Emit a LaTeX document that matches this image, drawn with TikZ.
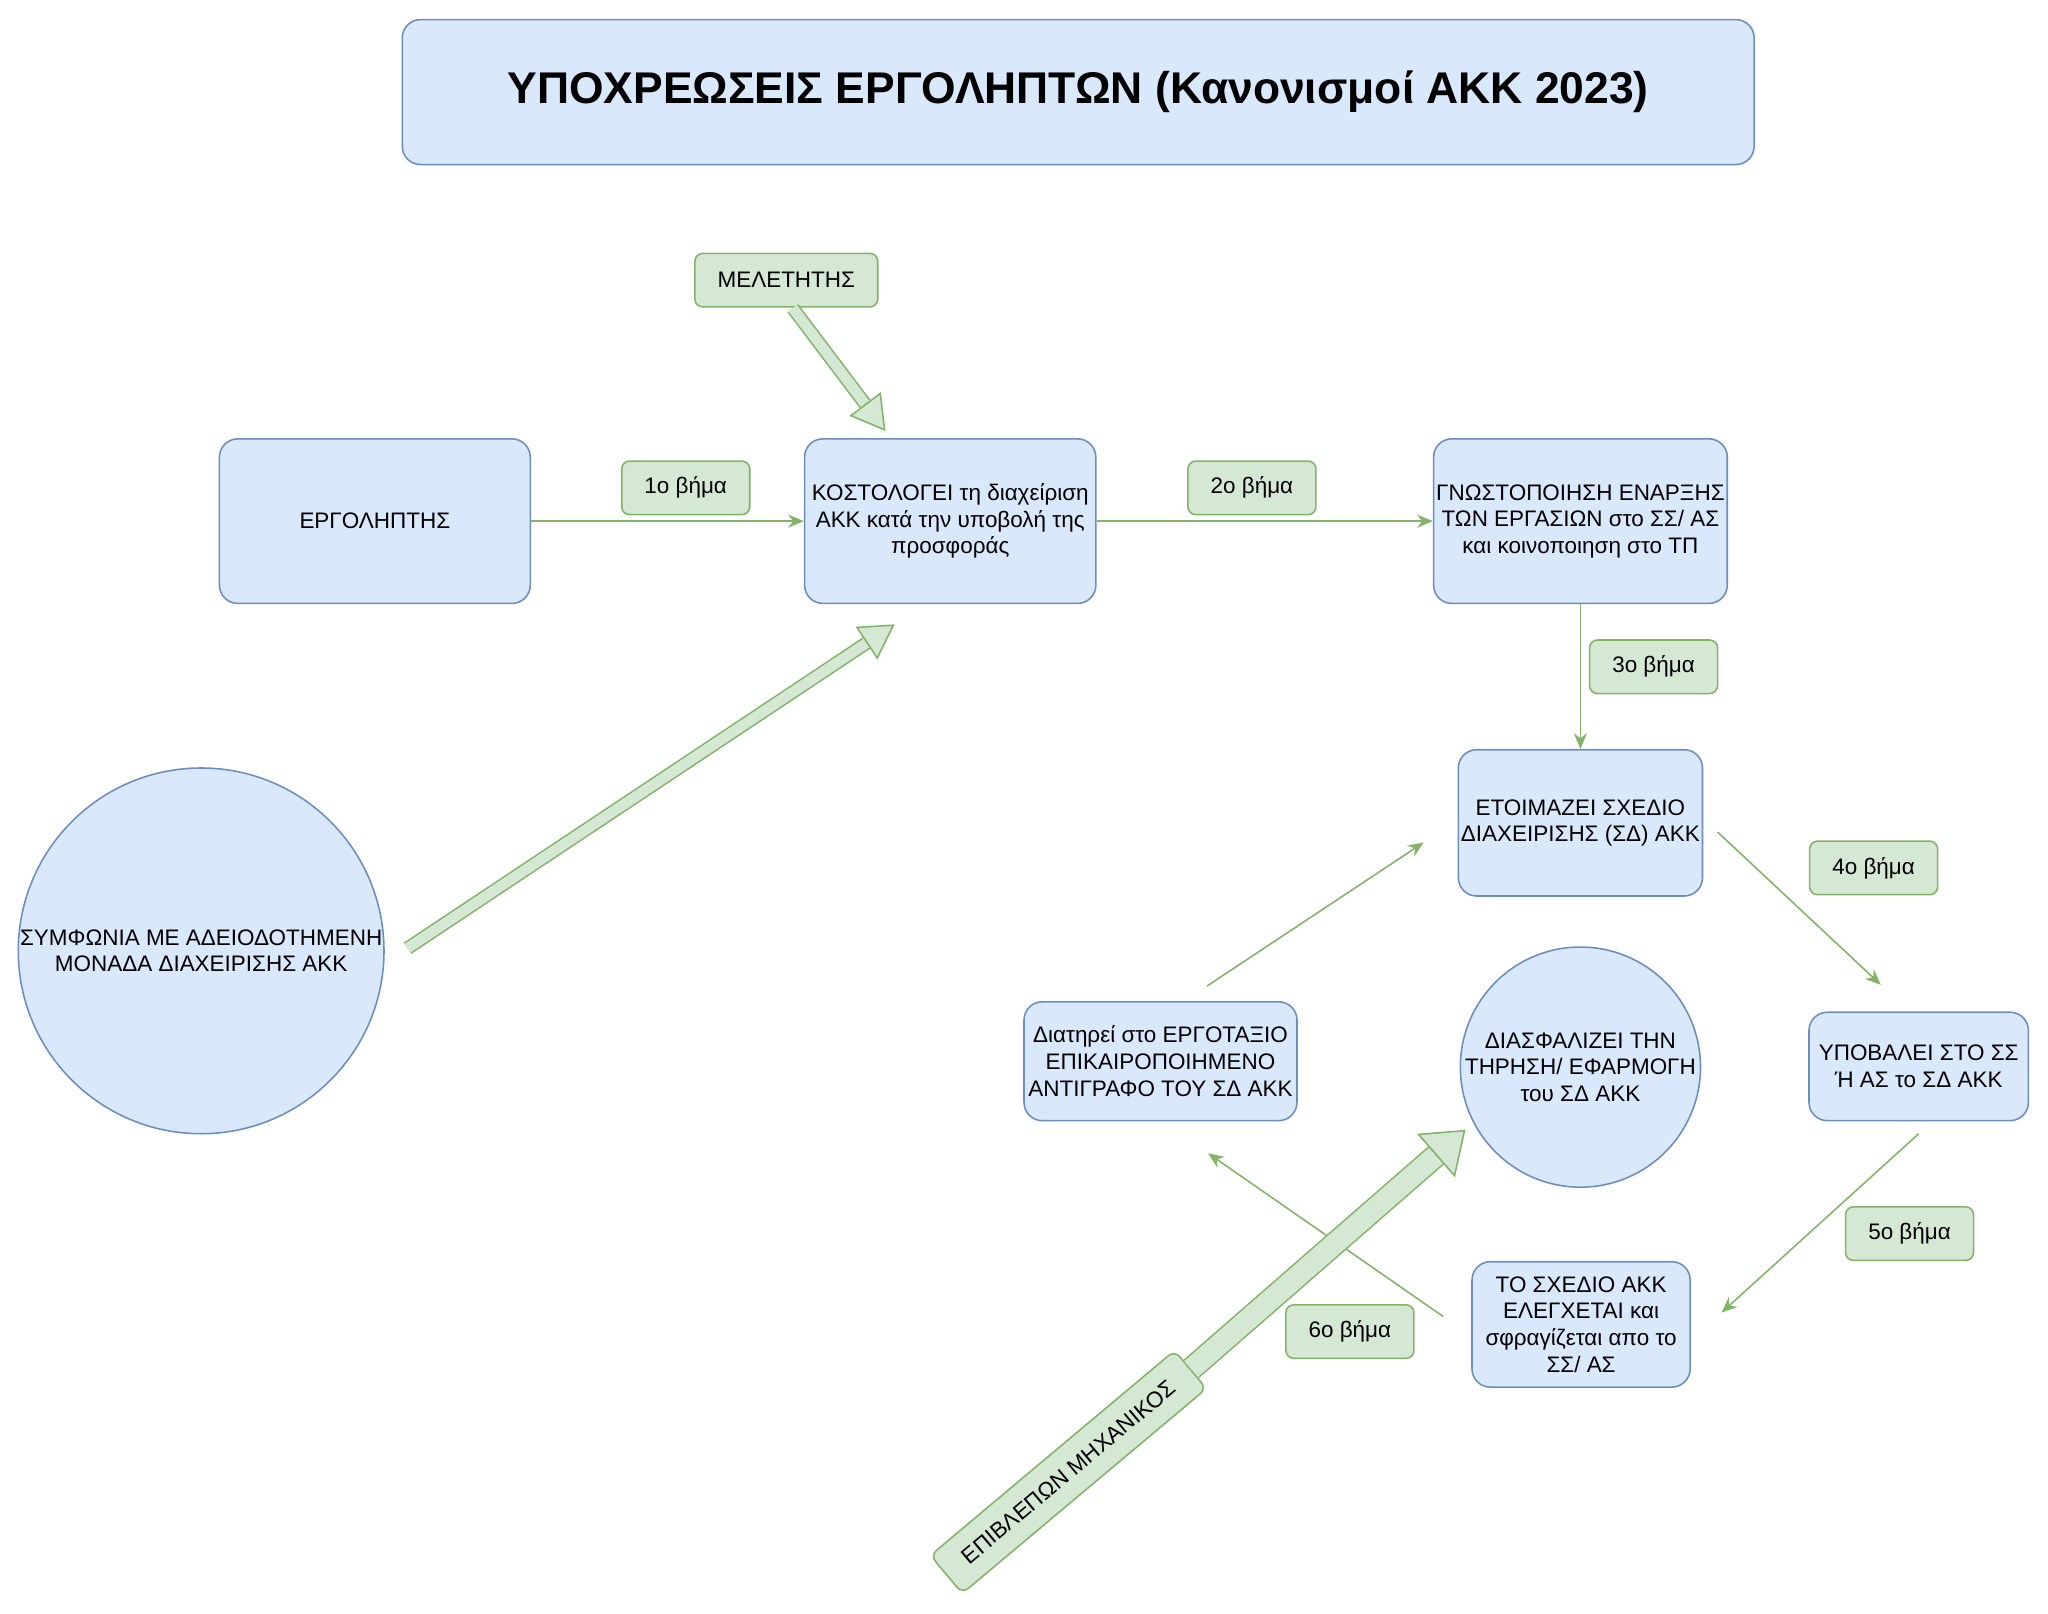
\documentclass[tikz,border=0pt]{standalone}
\usepackage{fontspec}
\setmainfont{Liberation Sans}
\usetikzlibrary{arrows.meta,calc}
\definecolor{bluefill}{HTML}{DAE8FC}
\definecolor{blueline}{HTML}{6C8EBF}
\definecolor{greenfill}{HTML}{D5E8D4}
\definecolor{greenline}{HTML}{82B366}
\tikzset{
  bluebox/.style={draw=blueline,fill=bluefill,rounded corners=7pt,line width=0.6pt,align=center,font=\fontsize{8.6}{10.2}\selectfont,inner sep=1pt},
  bluecirc/.style={draw=blueline,fill=bluefill,circle,line width=0.6pt,align=center,font=\fontsize{8.6}{10.2}\selectfont,inner sep=0pt},
  greenbox/.style={draw=greenline,fill=greenfill,rounded corners=3pt,line width=0.6pt,align=center,font=\fontsize{8.6}{10.2}\selectfont,minimum width=49pt,minimum height=20.5pt},
  thinarrow/.style={draw=greenline,line width=0.6pt,-{Stealth[length=6pt,width=5pt]}},
  bigshaft/.style={draw=greenline,double=greenfill,double distance=4pt,line width=0.6pt},
  bigtip/.style={draw=greenline,line width=0.6pt,fill=greenfill,-{Triangle[length=13pt,width=15pt,fill=greenfill]}}
}
\begin{document}
\begin{tikzpicture}[x=0.5pt,y=-0.5pt]
\useasboundingbox (0,0) rectangle (1568,1235);
% title
\node[bluebox,minimum width=517.5pt,minimum height=55.5pt,font=\fontsize{17}{20}\selectfont\bfseries] (title) at (825.5,70.5) {ΥΠΟΧΡΕΩΣΕΙΣ ΕΡΓΟΛΗΠΤΩΝ (Κανονισμοί ΑΚΚ 2023)};
% main boxes
\node[greenbox,minimum width=70pt] (meletitis) at (602,214.5) {ΜΕΛΕΤΗΤΗΣ};
\node[bluebox,minimum width=119pt,minimum height=63pt] (ergolip) at (287,399) {ΕΡΓΟΛΗΠΤΗΣ};
\node[bluebox,minimum width=111.5pt,minimum height=63pt] (kostol) at (727.5,399) {ΚΟΣΤΟΛΟΓΕΙ τη διαχείριση\\ΑΚΚ κατά την υποβολή της\\προσφοράς};
\node[bluebox,minimum width=112pt,minimum height=63pt] (gnost) at (1210,399) {ΓΝΩΣΤΟΠΟΙΗΣΗ ΕΝΑΡΞΗΣ\\ΤΩΝ ΕΡΓΑΣΙΩΝ στο ΣΣ/ ΑΣ\\και κοινοποιηση στο ΤΠ};
\node[bluebox,minimum width=91pt,minimum height=56pt] (etoim) at (1210,630) {ΕΤΟΙΜΑΖΕΙ ΣΧΕΔΙΟ\\ΔΙΑΧΕΙΡΙΣΗΣ (ΣΔ) ΑΚΚ};
\node[bluecirc,minimum size=140pt] (symf) at (154,728) {ΣΥΜΦΩΝΙΑ ΜΕ ΑΔΕΙΟΔΟΤΗΜΕΝΗ\\ΜΟΝΑΔΑ ΔΙΑΧΕΙΡΙΣΗΣ ΑΚΚ};
\node[bluebox,minimum width=104.5pt,minimum height=45.5pt] (diatir) at (888.5,812.5) {Διατηρεί στο ΕΡΓΟΤΑΞΙΟ\\ΕΠΙΚΑΙΡΟΠΟΙΗΜΕΝΟ\\ΑΝΤΙΓΡΑΦΟ ΤΟΥ ΣΔ ΑΚΚ};
\node[bluecirc,minimum size=89pt] (diasf) at (1210,817) {ΔΙΑΣΦΑΛΙΖΕΙ ΤΗΝ\\ΤΗΡΗΣΗ/ ΕΦΑΡΜΟΓΗ\\του ΣΔ ΑΚΚ};
\node[bluebox,minimum width=84pt,minimum height=41.5pt] (ypov) at (1469,816.5) {ΥΠΟΒΑΛΕΙ ΣΤΟ ΣΣ\\Ή ΑΣ το ΣΔ ΑΚΚ};
\node[bluebox,minimum width=83.5pt,minimum height=48pt] (elegx) at (1210.5,1014) {ΤΟ ΣΧΕΔΙΟ ΑΚΚ\\ΕΛΕΓΧΕΤΑΙ και\\σφραγίζεται απο το\\ΣΣ/ ΑΣ};
\node[greenbox,rotate=40,minimum width=122pt,minimum height=19pt] (epivl) at (818,1127) {ΕΠΙΒΛΕΠΩΝ ΜΗΧΑΝΙΚΟΣ};
% step labels
\node[greenbox] (b1) at (525,373.5) {1ο βήμα};
\node[greenbox] (b2) at (958.5,373.5) {2ο βήμα};
\node[greenbox] (b3) at (1266,510.5) {3ο βήμα};
\node[greenbox] (b4) at (1434.5,664.5) {4ο βήμα};
\node[greenbox] (b5) at (1462,944.5) {5ο βήμα};
\node[greenbox] (b6) at (1033.5,1019.5) {6ο βήμα};
% free ends
\coordinate (m1) at (607,236);
\coordinate (m2) at (678,330);
\coordinate (s1) at (312,726);
\coordinate (s2) at (685,478);
\coordinate (e2) at (1122,865);
\coordinate (a4) at (1315,637);
\coordinate (c4) at (1440,754);
\coordinate (a5) at (1469,868);
\coordinate (c5) at (1318,1005);
\coordinate (a6) at (1105,1008);
\coordinate (c6) at (925,883);
\coordinate (a7) at (924,755);
\coordinate (c7) at (1090,645);
% thin arrows
\draw[thinarrow] (ergolip) -- (kostol);
\draw[thinarrow] (kostol) -- (gnost);
\draw[thinarrow] (gnost) -- (etoim);
\draw[thinarrow] (a4) -- (c4);
\draw[thinarrow] (a5) -- (c5);
\draw[thinarrow] (a6) -- (c6);
\draw[thinarrow] (a7) -- (c7);
% big arrows
\draw[bigshaft] (m1) -- ($(m2)!13pt!(m1)$);
\draw[bigtip] ($(m2)!13pt!(m1)$) -- (m2);
\draw[bigshaft] (s1) -- ($(s2)!13pt!(s1)$);
\draw[bigtip] ($(s2)!13pt!(s1)$) -- (s2);
\draw[bigshaft,double distance=8pt] (epivl.east) -- ($(e2)!15pt!(epivl.east)$);
\draw[bigtip,-{Triangle[length=15pt,width=22pt,fill=greenfill]}] ($(e2)!15pt!(epivl.east)$) -- (e2);
\end{tikzpicture}
\end{document}
